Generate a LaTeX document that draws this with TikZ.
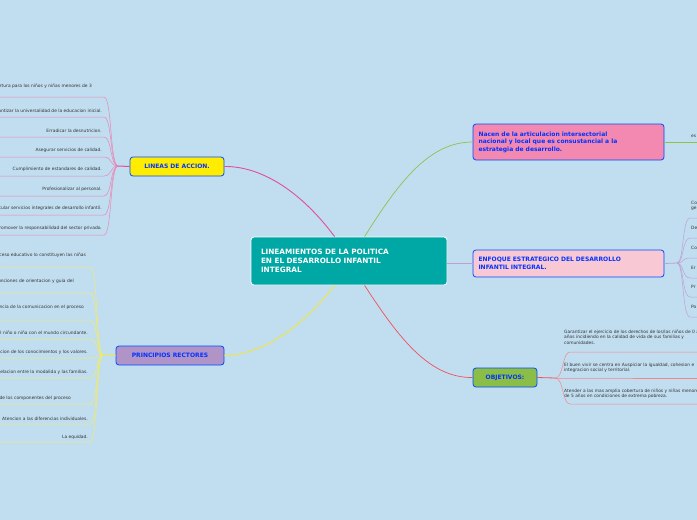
\documentclass[tikz,border=0pt]{standalone}
\usepackage{fontspec}
\setmainfont{DejaVu Sans}
\hyphenpenalty=10000
\begin{document}
\begin{tikzpicture}[x=1pt,y=-1pt,
 box/.style={draw=blue!70!cyan,line width=0.8pt,rounded corners=3pt,font=\bfseries\fontsize{6}{7.5}\selectfont,text=blue!80!cyan,align=left,inner sep=3pt},
 leafR/.style={anchor=south east,font=\fontsize{4.4}{5.2}\selectfont,text=black!80,inner sep=1pt},
 leafL/.style={anchor=west,font=\fontsize{4.4}{5.2}\selectfont,text=black!80,align=left,inner sep=1pt}]
\useasboundingbox (0,0) rectangle (697,520);
\definecolor{bg}{RGB}{193,222,240}
\fill[bg] (0,0) rectangle (697,520);
\definecolor{lpink}{RGB}{224,80,150}\definecolor{lyel}{RGB}{240,230,60}
\definecolor{lgreen}{RGB}{140,195,75}\definecolor{lpur}{RGB}{190,160,210}\definecolor{lred}{RGB}{240,80,90}
% center
\node[box,fill={rgb,255:red,0;green,168;blue,165},draw=white,text=white,text width=176pt,minimum height=48pt,minimum width=196pt,font=\bfseries\fontsize{7.3}{9}\selectfont] (c) at (349,261) {LINEAMIENTOS DE LA POLITICA\\EN EL DESARROLLO INFANTIL\\INTEGRAL};
% branches
\node[box,fill=yellow!95!orange,minimum width=94pt,minimum height=19pt,align=center] (la) at (177,166.5) {LINEAS DE ACCION.};
\node[box,fill={rgb,255:red,176;green,148;blue,200},minimum width=108pt,minimum height=19pt,align=center] (pr) at (170,355.5) {PRINCIPIOS RECTORES};
\node[box,fill={rgb,255:red,243;green,136;blue,176},minimum width=191pt,minimum height=36pt,text width=180pt] (na) at (568.5,142) {Nacen de la articulacion intersectorial\\nacional y local que es consustancial a la\\estrategia de desarrollo.};
\node[box,fill={rgb,255:red,248;green,200;blue,212},minimum width=191pt,minimum height=27pt,text width=180pt] (en) at (568.5,263.5) {ENFOQUE ESTRATEGICO DEL DESARROLLO\\INFANTIL INTEGRAL.};
\node[box,fill={rgb,255:red,139;green,190;blue,70},minimum width=64pt,minimum height=19pt,align=center] (ob) at (505,377.5) {OBJETIVOS:};
\draw[lpink,line width=0.9pt] (c.north west)++(84,0) .. controls (300,190) and (260,166) .. (la.east);
\draw[lyel,line width=0.9pt] (c.south west)++(84,0) .. controls (300,330) and (260,355) .. (pr.east);
\draw[lgreen,line width=0.7pt] (c.north west)++(114,0) .. controls (400,180) and (430,142) .. (na.west);
\draw[lpur,line width=0.7pt] (c.east|-en) -- (en.west);
\draw[lred,line width=0.7pt] (c.south west)++(114,0) .. controls (400,340) and (430,378) .. (ob.west);
% LINEAS leaves
\coordinate (hl) at (118,166);
\draw[lpink,line width=1pt] (la.west) -- (hl);
\node[leafR] at (93,90) {Ampliar la cobertura para los niños y niñas menores de 3};
\foreach \y/\t in {114/Garantizar la universalidad de la educacion inicial.,134/Erradicar la desnutricion.,154/Asegurar servicios de calidad.,173/Cumplimiento de estandares de calidad.,193/Profesionalizar al personal.,212/Articular servicios integrales de desarrollo infantil.,232/Promover la responsabilidad del sector privado.}{
 \node[leafR] at (103,\y) {\t};
 \draw[lpink!70,line width=0.5pt] (0,\y+3) -- (104,\y+3) .. controls (112,\y+3) and (110,166) .. (hl);}
\draw[lpink!70,line width=0.5pt] (0,97) -- (104,97) .. controls (112,97) and (110,166) .. (hl);
% PRINCIPIOS leaves
\coordinate (hp) at (103,355);
\draw[lyel,line width=1pt] (pr.west) -- (hp);
\node[leafR] at (87,259) {El centro del proceso educativo lo constituyen las niñas};
\node[leafR] at (75,285) {Funciones de orientacion y guia del};
\node[leafR] at (85,311) {Importancia de la comunicacion en el proceso};
\node[leafR] at (89,336) {Vinculacion del niño o niña con el mundo circundante.};
\node[leafR] at (89,356) {Integracion de los conocimientos y los valores.};
\node[leafR] at (89,376) {Relacion entre la modalida y las familias.};
\node[leafR] at (72,402) {Participacion de los componentes del proceso};
\node[leafR] at (89,422) {Atencion a las diferencias individuales.};
\node[leafR] at (89,441) {La equidad.};
\foreach \y in {267,293,320,339,358,378,404,424,442}{
 \draw[lyel!80,line width=0.5pt] (0,\y) -- (90,\y) .. controls (98,\y) and (96,355) .. (hp);}
% Nacen leaf
\draw[lgreen,line width=0.5pt] (na.east) -- (697,142);
\node[leafL] at (690,136) {es};
% ENFOQUE leaves
\coordinate (he) at (677,263);
\draw[lpur,line width=0.8pt] (en.east) -- (he);
\node[leafL] at (690,206) {Co\\ge};
\foreach \y/\t in {228/De,248/Co,268/Er,287/Pr,307/Po}{\node[leafL] at (690,\y) {\t};}
\foreach \y in {218,238,258,278,297,317}{
 \draw[lpur,line width=0.5pt] (697,\y) -- (690,\y) .. controls (682,\y) and (684,263) .. (he);}
% OBJETIVOS leaves
\coordinate (ho) at (555,378);
\draw[lred,line width=0.8pt] (ob.east) -- (ho);
\node[leafL,anchor=north west] at (563,329) {Garantizar el ejercicio de los derechos de los/las niños de 0 a 5\\años incidiendo en la calidad de vida de sus familias y\\comunidades.};
\node[leafL,anchor=north west] at (563,362) {El buen vivir se centra en Auspiciar la igualdad, cohesion e\\integracion social y territorial.};
\node[leafL,anchor=north west] at (563,388) {Atender a las mas amplia cobertura de niños y niñas menores\\de 5 años en condiciones de extrema pobreza.};
\foreach \y in {352,378,404}{
 \draw[lred!70,line width=0.5pt] (697,\y) -- (570,\y) .. controls (562,\y) and (564,378) .. (ho);}
\end{tikzpicture}
\end{document}
